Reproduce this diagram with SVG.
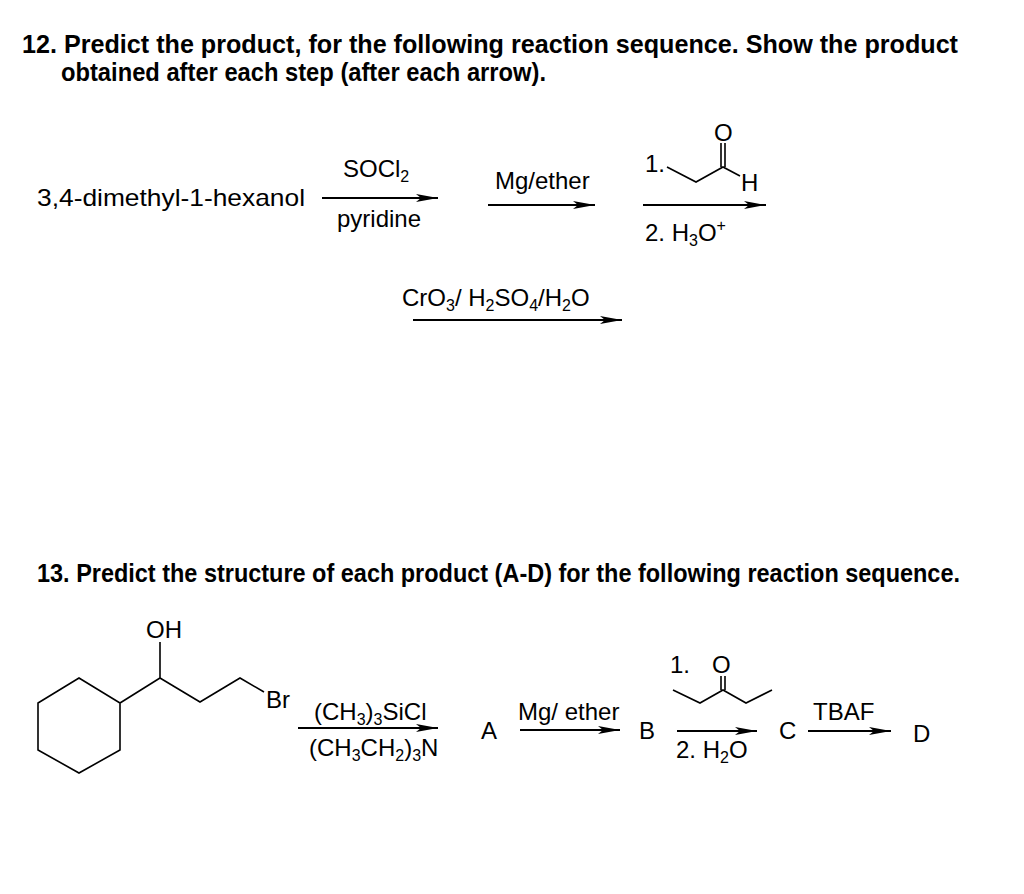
<svg xmlns="http://www.w3.org/2000/svg" width="1024" height="894" viewBox="0 0 1024 894">
<style>
text{font-family:"Liberation Sans",Arial,sans-serif;font-size:24px;fill:#000}
.h{font-weight:bold;font-size:25px}
.b{stroke:#000;stroke-width:1.6;fill:none}
.a{stroke:#000;stroke-width:1.8;fill:none;marker-end:url(#ah)}
.s{font-size:16px}
</style>
<defs><marker id="ah" markerWidth="24" markerHeight="8" refX="22" refY="4" orient="auto" markerUnits="userSpaceOnUse"><path d="M0,0 L22,4 L0,8 L5,4 Z" fill="#000"/></marker></defs>
<rect width="1024" height="894" fill="#fff"/>
<g id="titles">
<text class="h" x="22" y="53" textLength="936" lengthAdjust="spacingAndGlyphs">12. Predict the product, for the following reaction sequence. Show the product</text>
<text class="h" x="61" y="81" textLength="485" lengthAdjust="spacingAndGlyphs">obtained after each step (after each arrow).</text>
<text class="h" x="37" y="582" textLength="923" lengthAdjust="spacingAndGlyphs">13. Predict the structure of each product (A-D) for the following reaction sequence.</text>
</g>
<g id="connectors">
<line class="a" x1="322" y1="198" x2="438" y2="198"/>
<line class="a" x1="488" y1="205" x2="595" y2="205"/>
<line class="a" x1="643" y1="205" x2="766" y2="205"/>
<line class="a" x1="413" y1="320" x2="622" y2="320"/>
<line class="a" x1="298" y1="728" x2="438" y2="728"/>
<line class="a" x1="520" y1="730" x2="620" y2="730"/>
<line class="a" x1="677" y1="731" x2="757" y2="731"/>
<line class="a" x1="808" y1="731" x2="891" y2="731"/>
</g>
<g id="q12">
<text x="37" y="206" textLength="268" lengthAdjust="spacingAndGlyphs">3,4-dimethyl-1-hexanol</text>
<text x="343" y="177">SOCl<tspan class="s" dy="5">2</tspan></text>
<text x="337" y="227">pyridine</text>
<text x="495" y="189">Mg/ether</text>
<text x="645" y="172">1.</text>
<path class="b" d="M667,167 L696,182 L723,167 L740,176 M721,167 L721,143 M725,167 L725,143"/>
<text x="714" y="141">O</text>
<text x="741" y="191">H</text>
<text x="645" y="241">2. H<tspan class="s" dy="5">3</tspan><tspan dy="-5">O</tspan><tspan class="s" dy="-10">+</tspan></text>
<text x="402" y="306">CrO<tspan class="s" dy="5">3</tspan><tspan dy="-5">/ H</tspan><tspan class="s" dy="5">2</tspan><tspan dy="-5">SO</tspan><tspan class="s" dy="5">4</tspan><tspan dy="-5">/H</tspan><tspan class="s" dy="5">2</tspan><tspan dy="-5">O</tspan></text>
</g>
<g id="q13">
<path class="b" d="M79,678 L120,703 L120,750 L79,773 L38,750 L38,703 Z M120,703 L160,678 L160,642 M160,678 L200,702 L240,678 L264,692"/>
<text x="146" y="638">OH</text>
<text x="266" y="708">Br</text>
<text x="314" y="720">(CH<tspan class="s" dy="5">3</tspan><tspan dy="-5">)</tspan><tspan class="s" dy="5">3</tspan><tspan dy="-5">SiCl</tspan></text>
<text x="309" y="756">(CH<tspan class="s" dy="5">3</tspan><tspan dy="-5">CH</tspan><tspan class="s" dy="5">2</tspan><tspan dy="-5">)</tspan><tspan class="s" dy="5">3</tspan><tspan dy="-5">N</tspan></text>
<text x="481" y="739">A</text>
<text x="518" y="720">Mg/ ether</text>
<text x="639" y="739">B</text>
<text x="670" y="673">1.</text>
<text x="712" y="673">O</text>
<path class="b" d="M673,690 L700,703 L723,690 L746,703 L772,690 M721,690 L721,676 M725,690 L725,676"/>
<text x="676" y="758">2. H<tspan class="s" dy="5">2</tspan><tspan dy="-5">O</tspan></text>
<text x="779" y="739">C</text>
<text x="813" y="720">TBAF</text>
<text x="913" y="742">D</text>
</g>
</svg>
